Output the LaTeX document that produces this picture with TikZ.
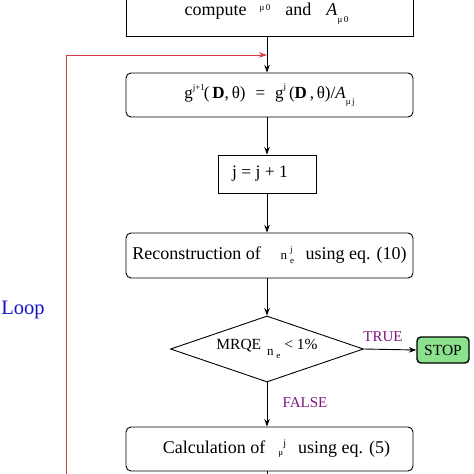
\documentclass[tikz,border=0pt]{standalone}
\usepackage{fontspec}
\setmainfont{Liberation Serif}
\usetikzlibrary{shapes.geometric,arrows.meta}
\definecolor{loopred}{RGB}{215,60,70}
\definecolor{loopblue}{RGB}{20,20,200}
\definecolor{tfpurple}{RGB}{128,20,128}
\definecolor{stopgreen}{RGB}{140,225,140}
\newcommand{\fs}[1]{\fontsize{#1}{#1}\selectfont}
\newcommand{\up}[2]{\raisebox{#1}{\fs{9}#2}}
\begin{document}
\begin{tikzpicture}[x=1pt,y=-1pt,
  every node/.style={font=\fs{18}, inner sep=0pt},
  procbox/.style={draw, line width=0.9pt, minimum width=287pt, minimum height=44pt},
  roundbox/.style={procbox, rounded corners=5pt},
  plainbox/.style={draw, line width=0.9pt},
  decision/.style={draw, line width=0.9pt, diamond, shape aspect=2.9, minimum width=193pt, minimum height=66pt},
  stopbox/.style={draw, line width=1.4pt, rounded corners=4pt, fill=stopgreen, minimum width=52pt, minimum height=26pt, font=\fs{15.5}},
  tf/.style={text=tfpurple, font=\fs{15}},
  arr/.style={draw, line width=0.9pt, -{Stealth[length=7.5pt,width=5.5pt]}},
  looparr/.style={draw=loopred, line width=1pt, -{Stealth[length=8pt,width=5.5pt]}}
]
\useasboundingbox (0,0) rectangle (474,474);
\node[procbox] (init) at (269.5,14) {\hspace{-6pt}compute\hspace{13pt}\up{5pt}{μ\,0}\hspace{15pt}and\hspace{15pt}\textit{A}\raisebox{-7pt}{\fs{9}μ\,0}};
\node[roundbox] (upd) at (269.5,95) {\fs{17}g\raisebox{8pt}{\fs{9}j+1}\kern-1pt(\,\textbf{D},\,θ)\hspace{10pt}=\hspace{10pt}g\raisebox{9pt}{\fs{9}j}\,(\textbf{D}\,,\,θ)/\textit{A}\raisebox{-6pt}{\fs{9}μ\,j}};
\node[plainbox, minimum width=98pt, minimum height=38pt] (inc) at (267,174) {\fs{17.5}\hspace{-14pt}j = j + 1};
\node[roundbox, minimum height=45pt] (rec) at (269.5,255.5) {\fs{18}Reconstruction of\hspace{20pt}{\fs{13}n}\,\raisebox{-4pt}{\fs{9}e}\kern-4pt\raisebox{7pt}{\fs{9}j}\hspace{13pt}using eq. (10)};
\node[decision] (dec) at (267,349) {\fs{15.5}MRQE\hspace{6pt}\raisebox{-6pt}{\fs{13}n}\,\raisebox{-9pt}{\fs{9}e}\hspace{4pt}< 1\%};
\node[stopbox] (stop) at (443,350) {STOP};
\node[roundbox] (calc) at (269.5,449) {\fs{18}\hspace{14pt}Calculation of\hspace{13pt}\raisebox{-2pt}{\fs{9}μ}\raisebox{7pt}{\fs{10}j}\hspace{12pt}using eq. (5)};
\node[text=loopblue, font=\fs{20.5}] (looplbl) at (23,310) {Loop};
\node[tf] (truelbl) at (383,337) {TRUE};
\node[tf] (falselbl) at (305,403) {FALSE};
\coordinate (merge) at (267,55);
\coordinate (loopstart) at (66,476);
\coordinate (bottom) at (267,476);
\draw[arr] (init.south -| dec.north) -- (upd.north -| dec.north);
\draw[arr] (upd.south -| dec.north) -- (inc.north);
\draw[arr] (inc.south) -- (rec.north -| dec.north);
\draw[arr] (rec.south -| dec.north) -- (dec.north);
\draw[arr] (dec.east) -- (stop.west);
\draw[arr] (dec.south) -- (calc.north -| dec.south);
\draw[line width=0.9pt] (calc.south -| dec.south) -- (bottom);
\draw[looparr] (loopstart) |- (merge);
\end{tikzpicture}
\end{document}
